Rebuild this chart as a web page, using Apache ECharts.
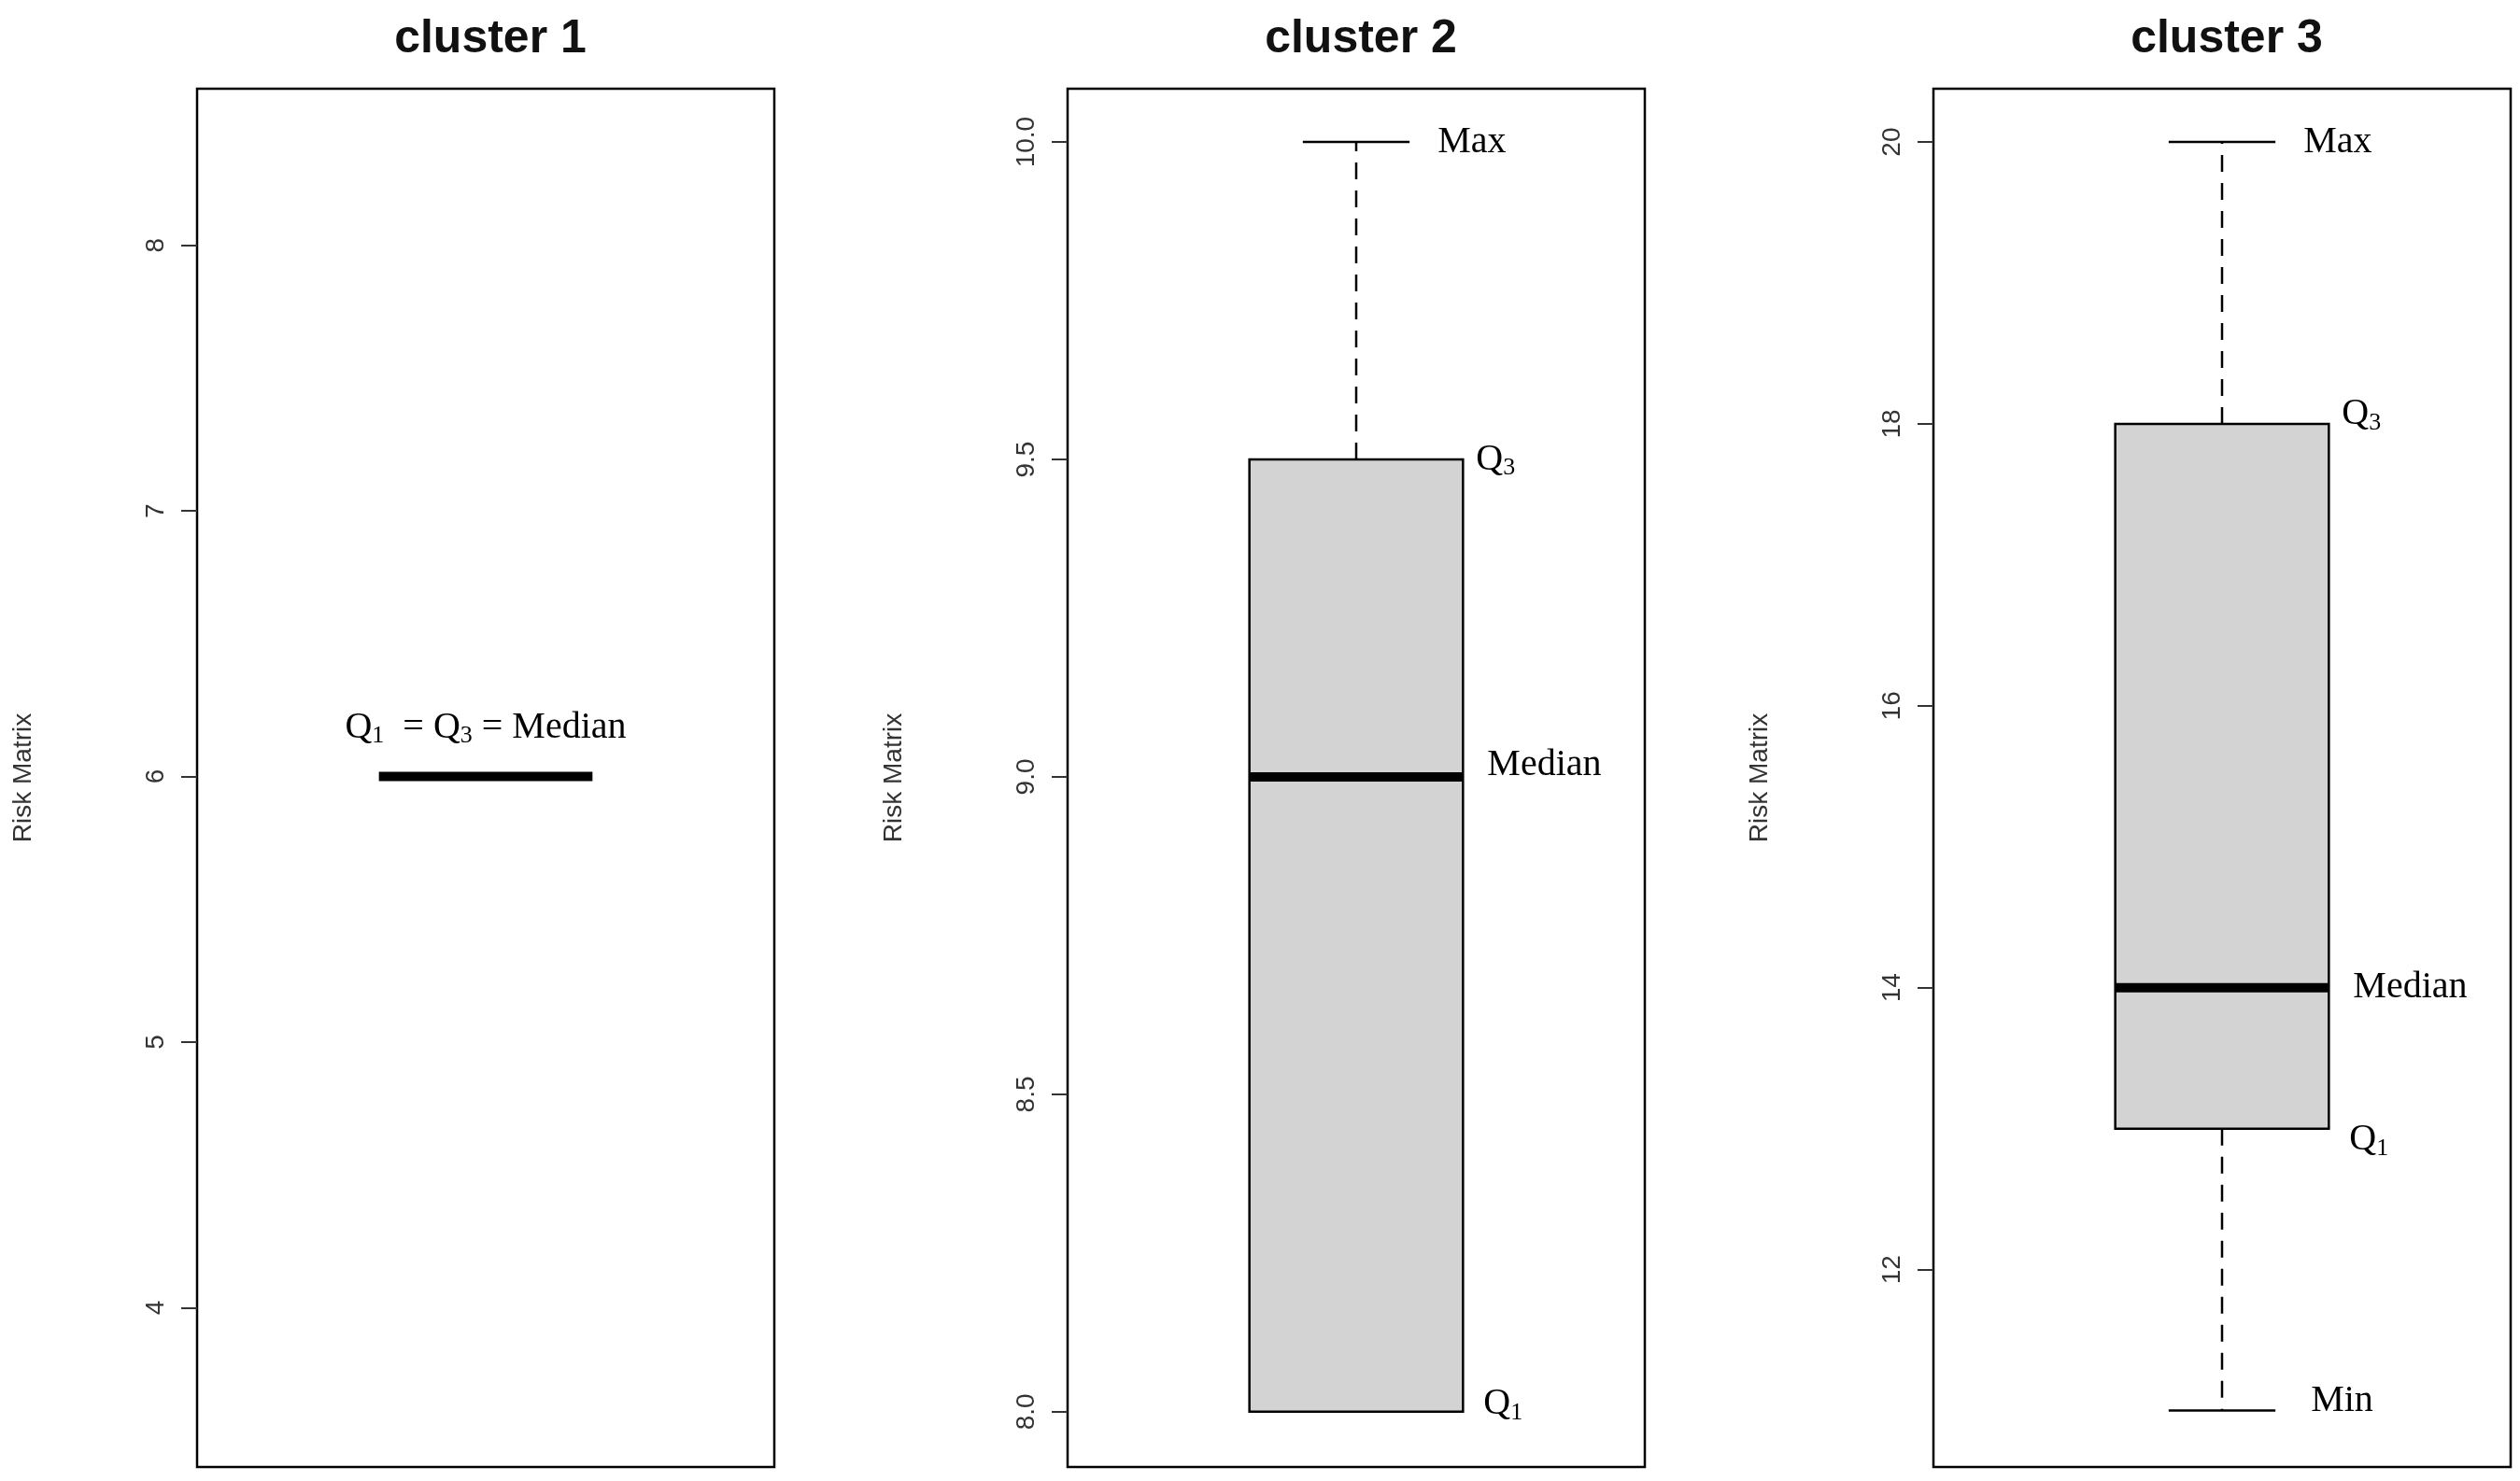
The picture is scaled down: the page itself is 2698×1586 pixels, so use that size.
<!DOCTYPE html>
<html>
<head>
<meta charset="utf-8">
<script src="https://cdn.jsdelivr.net/npm/echarts@6/dist/echarts.min.js"></script>
<style>html,body{margin:0;padding:0;background:#fff;}#chart{width:2698px;height:1586px;}</style>
</head>
<body>
<div id="chart"></div>
<script>
var categories = ['cluster 1', 'cluster 2', 'cluster 3'];
var minVals = [6, 8, 11];
var q1Vals = [6, 8, 13];
var medianVals = [6, 9, 14];
var q3Vals = [6, 9.5, 18];
var maxVals = [6, 10, 20];
var yMin = [3.4, 7.913, 10.6];
var yMax = [8.59, 10.084, 20.378];
var tickValues = [[4, 5, 6, 7, 8], [8.0, 8.5, 9.0, 9.5, 10.0], [12, 14, 16, 18, 20]];
var tickDecimals = [0, 1, 0];
var lefts = [211, 1143, 2070];

var serif = '"Liberation Serif", "DejaVu Serif", serif';
var rich = {
    t: { fontFamily: serif, fontSize: 40, color: '#000' },
    s: { fontFamily: serif, fontSize: 26, color: '#000', padding: [18, 0, 0, 0] }
};

function txt(x, y, str, align) {
    return {
        type: 'text', x: x, y: y,
        style: { text: str, rich: rich, align: align || 'left', verticalAlign: 'middle' }
    };
}

function renderBox(params, api) {
    var i = api.value(0);
    var c = api.coord([i, medianVals[i]]);
    var band = api.size([1, 0])[0];
    var half = band * 0.185;
    var cap = half / 2;
    var x = c[0];
    var yq1 = api.coord([i, q1Vals[i]])[1];
    var yq3 = api.coord([i, q3Vals[i]])[1];
    var ymed = c[1];
    var ymin = api.coord([i, minVals[i]])[1];
    var ymax = api.coord([i, maxVals[i]])[1];
    var kids = [];
    var dash = { stroke: '#000', lineWidth: 2.5, lineDash: [18, 12] };
    var solid = { stroke: '#000', lineWidth: 2.5 };
    if (q3Vals[i] > q1Vals[i]) {
        kids.push({ type: 'rect', shape: { x: x - half, y: yq3, width: half * 2, height: yq1 - yq3 },
            style: { fill: '#d3d3d3', stroke: '#000', lineWidth: 2.5 } });
    }
    if (maxVals[i] > q3Vals[i]) {
        kids.push({ type: 'line', shape: { x1: x, y1: yq3, x2: x, y2: ymax }, style: dash });
        kids.push({ type: 'line', shape: { x1: x - cap, y1: ymax, x2: x + cap, y2: ymax }, style: solid });
        kids.push(txt(x + cap + 30, ymax, '{t|Max}'));
    }
    if (minVals[i] < q1Vals[i]) {
        kids.push({ type: 'line', shape: { x1: x, y1: yq1, x2: x, y2: ymin }, style: dash });
        kids.push({ type: 'line', shape: { x1: x - cap, y1: ymin, x2: x + cap, y2: ymin }, style: solid });
        kids.push(txt(x + cap + 38, ymin - 10, '{t|Min}'));
    }
    kids.push({ type: 'line', shape: { x1: x - half, y1: ymed, x2: x + half, y2: ymed },
        style: { stroke: '#000', lineWidth: 10 } });
    if (q3Vals[i] > q1Vals[i]) {
        kids.push(txt(x + half + 14, yq3 + (i === 2 ? -10 : 0), '{t|Q}{s|3}'));
        kids.push(txt(x + half + 26, ymed - (i === 1 ? 12 : 0), '{t|Median}'));
        kids.push(txt(x + half + 22, yq1 + (i === 2 ? 12 : -8), '{t|Q}{s|1}'));
    } else {
        kids.push(txt(x, ymed - 52, '{t|Q}{s|1}{t|  = Q}{s|3}{t| = Median}', 'center'));
    }
    return { type: 'group', children: kids };
}

var grids = [], xAxes = [], yAxes = [], titles = [], series = [];
categories.forEach(function (name, i) {
    grids.push({ left: lefts[i], width: 618, top: 95, height: 1476, show: true,
        borderColor: '#000', borderWidth: 2.5, backgroundColor: 'transparent' });
    titles.push({ text: name, left: lefts[i] + 309, top: 12, textAlign: 'center',
        textStyle: { fontFamily: '"Liberation Sans Narrow", "Liberation Sans", sans-serif',
            fontWeight: 'bold', fontSize: 50, color: '#111' } });
    xAxes.push({ type: 'category', gridIndex: i, data: categories, min: i, max: i,
        show: false });
    yAxes.push({ type: 'value', gridIndex: i, min: yMin[i], max: yMax[i],
        name: 'Risk Matrix', nameLocation: 'middle', nameGap: 172,
        nameTextStyle: { fontFamily: '"Liberation Sans", Arial, sans-serif', fontSize: 28, color: '#333' },
        splitLine: { show: false },
        axisLine: { show: false },
        axisTick: { show: true, length: 17, lineStyle: { color: '#333', width: 2 },
            customValues: tickValues[i] },
        axisLabel: { rotate: 90, margin: 30, fontSize: 28, color: '#333',
            fontFamily: '"Liberation Sans", Arial, sans-serif',
            customValues: tickValues[i],
            formatter: function (v) { return Number(v).toFixed(tickDecimals[i]); } } });
    series.push({ type: 'custom', xAxisIndex: i, yAxisIndex: i,
        renderItem: renderBox, clip: false,
        data: [[i, minVals[i], q1Vals[i], medianVals[i], q3Vals[i], maxVals[i]]] });
});

var chart = echarts.init(document.getElementById('chart'));
chart.setOption({
    animation: false,
    backgroundColor: '#fff',
    title: titles,
    grid: grids,
    xAxis: xAxes,
    yAxis: yAxes,
    series: series
});
</script>
</body>
</html>
